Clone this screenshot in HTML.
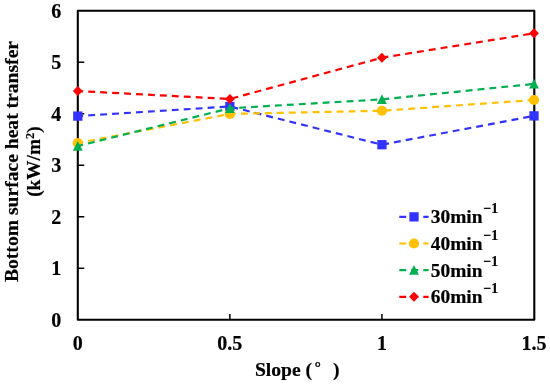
<!DOCTYPE html>
<html><head><meta charset="utf-8"><title>Bottom surface heat transfer vs slope</title>
<style>
html,body{margin:0;padding:0;background:#fff;}
body{width:550px;height:385px;overflow:hidden;}
svg{display:block;}
text{font-family:"Liberation Serif","Noto Serif CJK SC",serif;font-weight:bold;font-size:20px;fill:#000;stroke:#000;stroke-width:0.2px;}
.t{font-size:19.6px;}
.l{font-size:19.4px;}
.sup{font-size:13.9px;}
</style></head><body>
<svg width="550" height="385" viewBox="0 0 550 385">
<rect width="550" height="385" fill="#fff"/>

<line x1="77.8" y1="268.28" x2="84.3" y2="268.28" stroke="#000" stroke-width="1.5"/>
<line x1="77.8" y1="216.77" x2="84.3" y2="216.77" stroke="#000" stroke-width="1.5"/>
<line x1="77.8" y1="165.25" x2="84.3" y2="165.25" stroke="#000" stroke-width="1.5"/>
<line x1="77.8" y1="113.73" x2="84.3" y2="113.73" stroke="#000" stroke-width="1.5"/>
<line x1="77.8" y1="62.22" x2="84.3" y2="62.22" stroke="#000" stroke-width="1.5"/>
<line x1="229.87" y1="319.8" x2="229.87" y2="314.0" stroke="#000" stroke-width="1.5"/>
<line x1="381.93" y1="319.8" x2="381.93" y2="314.0" stroke="#000" stroke-width="1.5"/>
<rect x="77.8" y="10.7" width="456.49999999999994" height="309.10" fill="none" stroke="#000" stroke-width="2.1" stroke-linejoin="round"/>
<polyline points="77.80,116.10 229.87,106.50 381.93,144.70 534.00,115.90" fill="none" stroke="#3333ff" stroke-width="2.2" stroke-dasharray="6.88 5.08" stroke-dashoffset="1.5"/>
<rect x="73.15" y="111.45" width="9.3" height="9.3" fill="#3333ff"/>
<rect x="225.22" y="101.85" width="9.3" height="9.3" fill="#3333ff"/>
<rect x="377.28" y="140.05" width="9.3" height="9.3" fill="#3333ff"/>
<rect x="529.35" y="111.25" width="9.3" height="9.3" fill="#3333ff"/>
<polyline points="77.80,143.00 229.87,113.90 381.93,110.75 534.00,100.00" fill="none" stroke="#ffc000" stroke-width="2.2" stroke-dasharray="6.88 5.08" stroke-dashoffset="1.5"/>
<circle cx="77.80" cy="143.00" r="5.1" fill="#ffc000"/>
<circle cx="229.87" cy="113.90" r="5.1" fill="#ffc000"/>
<circle cx="381.93" cy="110.75" r="5.1" fill="#ffc000"/>
<circle cx="534.00" cy="100.00" r="5.1" fill="#ffc000"/>
<polyline points="77.80,146.05 229.87,108.30 381.93,99.35 534.00,83.90" fill="none" stroke="#00b050" stroke-width="2.2" stroke-dasharray="6.88 5.08" stroke-dashoffset="1.5"/>
<polygon points="77.80,140.95 82.70,150.65 72.90,150.65" fill="#00b050"/>
<polygon points="229.87,103.20 234.77,112.90 224.97,112.90" fill="#00b050"/>
<polygon points="381.93,94.25 386.83,103.95 377.03,103.95" fill="#00b050"/>
<polygon points="534.00,78.80 538.90,88.50 529.10,88.50" fill="#00b050"/>
<polyline points="77.80,91.00 229.87,99.00 381.93,57.70 534.00,33.30" fill="none" stroke="#ff0000" stroke-width="2.2" stroke-dasharray="6.88 5.08" stroke-dashoffset="1.5"/>
<polygon points="77.80,86.05 82.75,91.00 77.80,95.95 72.85,91.00" fill="#ff0000"/>
<polygon points="229.87,94.05 234.82,99.00 229.87,103.95 224.92,99.00" fill="#ff0000"/>
<polygon points="381.93,52.75 386.88,57.70 381.93,62.65 376.98,57.70" fill="#ff0000"/>
<polygon points="534.00,28.35 538.95,33.30 534.00,38.25 529.05,33.30" fill="#ff0000"/>
<text x="61.2" y="326.60" text-anchor="end">0</text>
<text x="61.2" y="275.08" text-anchor="end">1</text>
<text x="61.2" y="223.57" text-anchor="end">2</text>
<text x="61.2" y="172.05" text-anchor="end">3</text>
<text x="61.2" y="120.53" text-anchor="end">4</text>
<text x="61.2" y="69.02" text-anchor="end">5</text>
<text x="61.2" y="17.50" text-anchor="end">6</text>
<text x="77.80" y="349.6" text-anchor="middle">0</text>
<text x="229.87" y="349.6" text-anchor="middle">0.5</text>
<text x="381.93" y="349.6" text-anchor="middle">1</text>
<text x="534.00" y="349.6" text-anchor="middle">1.5</text>
<text class="t" x="254.9" y="376.3">Slope (</text>
<text x="314.7" y="372.0" style="font-size:15px;font-weight:normal;stroke-width:0.45px">°</text>
<text class="t" x="333.1" y="376.3">)</text>
<text class="t" transform="translate(17.9,161.5) rotate(-90)" text-anchor="middle">Bottom surface heat transfer</text>
<text class="t" style="font-size:19.3px" transform="translate(40.2,161.6) rotate(-90)" text-anchor="middle">(kW/m<tspan style="font-size:12.4px" dy="-6.3">2</tspan><tspan dy="6.3">)</tspan></text>
<line x1="399.3" y1="216.85" x2="428.6" y2="216.85" stroke="#3333ff" stroke-width="2.2" stroke-dasharray="6.9 5.1"/>
<rect x="409.35" y="212.20" width="9.3" height="9.3" fill="#3333ff"/>
<text class="l" x="430.8" y="223.45">30min<tspan class="sup" dx="0.8" dy="-10.5">−1</tspan></text>
<line x1="399.3" y1="243.5" x2="428.6" y2="243.5" stroke="#ffc000" stroke-width="2.2" stroke-dasharray="6.9 5.1"/>
<circle cx="414.00" cy="243.50" r="5.1" fill="#ffc000"/>
<text class="l" x="430.8" y="250.10">40min<tspan class="sup" dx="0.8" dy="-10.5">−1</tspan></text>
<line x1="399.3" y1="270.15" x2="428.6" y2="270.15" stroke="#00b050" stroke-width="2.2" stroke-dasharray="6.9 5.1"/>
<polygon points="414.00,265.05 418.90,274.75 409.10,274.75" fill="#00b050"/>
<text class="l" x="430.8" y="276.75">50min<tspan class="sup" dx="0.8" dy="-10.5">−1</tspan></text>
<line x1="399.3" y1="296.8" x2="428.6" y2="296.8" stroke="#ff0000" stroke-width="2.2" stroke-dasharray="6.9 5.1"/>
<polygon points="414.00,291.85 418.95,296.80 414.00,301.75 409.05,296.80" fill="#ff0000"/>
<text class="l" x="430.8" y="303.40">60min<tspan class="sup" dx="0.8" dy="-10.5">−1</tspan></text>
</svg></body></html>
